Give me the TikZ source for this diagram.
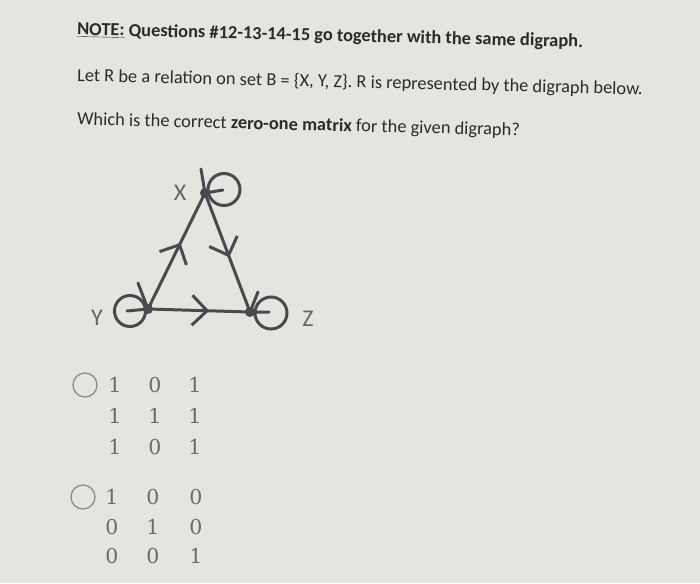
\documentclass[tikz,border=0pt]{standalone}
\usepackage{fontspec}
\newfontfamily\calibri{Carlito}
\newfontfamily\digitserif{DejaVu Serif}
\usetikzlibrary{arrows.meta,decorations.markings}
\definecolor{bg}{HTML}{E6E4DF}
\definecolor{ink}{HTML}{2B2B2B}
\definecolor{graph}{HTML}{474B4F}
\definecolor{opt}{HTML}{6A6A6A}
\definecolor{radio}{HTML}{8C8C8C}
\tikzset{
  qtext/.style={anchor=west, inner sep=0pt, text=ink, font=\calibri\fontsize{18.4}{21}\selectfont, rotate=-1.4},
  vtx/.style={circle, fill=graph, draw=none, inner sep=0pt, minimum size=10pt},
  edge/.style={draw=graph, line width=3pt},
  loopc/.style={draw=graph, line width=3pt},
  chev/.style={postaction={decorate}, decoration={markings, mark=at position #1 with {\arrow{Straight Barb[length=15pt,width=30pt]}}}},
  vlabel/.style={inner sep=0pt, text=graph!85, font=\calibri\fontsize{24}{27}\selectfont},
  digit/.style={inner sep=0pt, text=opt, font=\digitserif\fontsize{20.5}{24}\selectfont},
  radiobtn/.style={draw=radio, line width=1.3pt},
}
\begin{document}
\begin{tikzpicture}[x=1pt,y=-1pt]
\fill[bg] (0,0) rectangle (700,583);
\useasboundingbox (0,0) rectangle (700,583);

% question text
\node[qtext] (t1) at (77,30) {\textbf{\underline{NOTE:} Questions \#12-13-14-15 go together with the same digraph.}};
\node[qtext] (t2) at (77,76) {Let R be a relation on set B = \{X, Y, Z\}. R is represented by the digraph below.};
\node[qtext] (t3) at (77,120) {Which is the correct \textbf{zero-one matrix} for the given digraph?};

% digraph
\node[vtx] (X) at (205,193) {};
\node[vtx] (Y) at (148,309) {};
\node[vtx] (Z) at (250,312) {};

\node[vlabel] (lx) at (180,193) {X};
\node[vlabel] (ly) at (97,318) {Y};
\node[vlabel] (lz) at (308,319) {Z};

\draw[edge, chev=0.57] (Y.center) -- (X.center);
\draw[edge, chev=0.54] (X.center) -- (Z.center);
\draw[edge, chev=0.60] (Y.center) -- (Z.center);

% loops
\coordinate (cx) at (224,189.5);
\coordinate (cy) at (130,311);
\coordinate (cz) at (271,313);
\draw[loopc] (cx) circle[radius=16pt];
\draw[loopc] (cy) circle[radius=15.5pt];
\draw[loopc] (cz) circle[radius=16pt];

\coordinate (xa) at (201,169);
\coordinate (xb) at (223,190);
\coordinate (ya) at (138,283);
\coordinate (yb) at (127,311);
\coordinate (za) at (258,292);
\coordinate (zb) at (269,312);
\draw[edge, line cap=round] (xa) -- (X.center) -- (xb);
\draw[edge, line cap=round] (ya) -- (Y.center) -- (yb);
\draw[edge, line cap=round] (za) -- (Z.center) -- (zb);

% option 1
\draw[radiobtn] (85,385) circle[radius=12pt];
\node[digit] (a11) at (115,385) {1};
\node[digit] (a12) at (155,385) {0};
\node[digit] (a13) at (195,385) {1};
\node[digit] (a21) at (115,416) {1};
\node[digit] (a22) at (155,416) {1};
\node[digit] (a23) at (195,416) {1};
\node[digit] (a31) at (115,447) {1};
\node[digit] (a32) at (155,447) {0};
\node[digit] (a33) at (195,447) {1};

% option 2
\draw[radiobtn] (83,497) circle[radius=12pt];
\node[digit] (b11) at (112,497) {1};
\node[digit] (b12) at (153,497) {0};
\node[digit] (b13) at (196,497) {0};
\node[digit] (b21) at (112,527) {0};
\node[digit] (b22) at (153,527) {1};
\node[digit] (b23) at (196,527) {0};
\node[digit] (b31) at (112,556) {0};
\node[digit] (b32) at (153,556) {0};
\node[digit] (b33) at (196,556) {1};
\end{tikzpicture}
\end{document}
